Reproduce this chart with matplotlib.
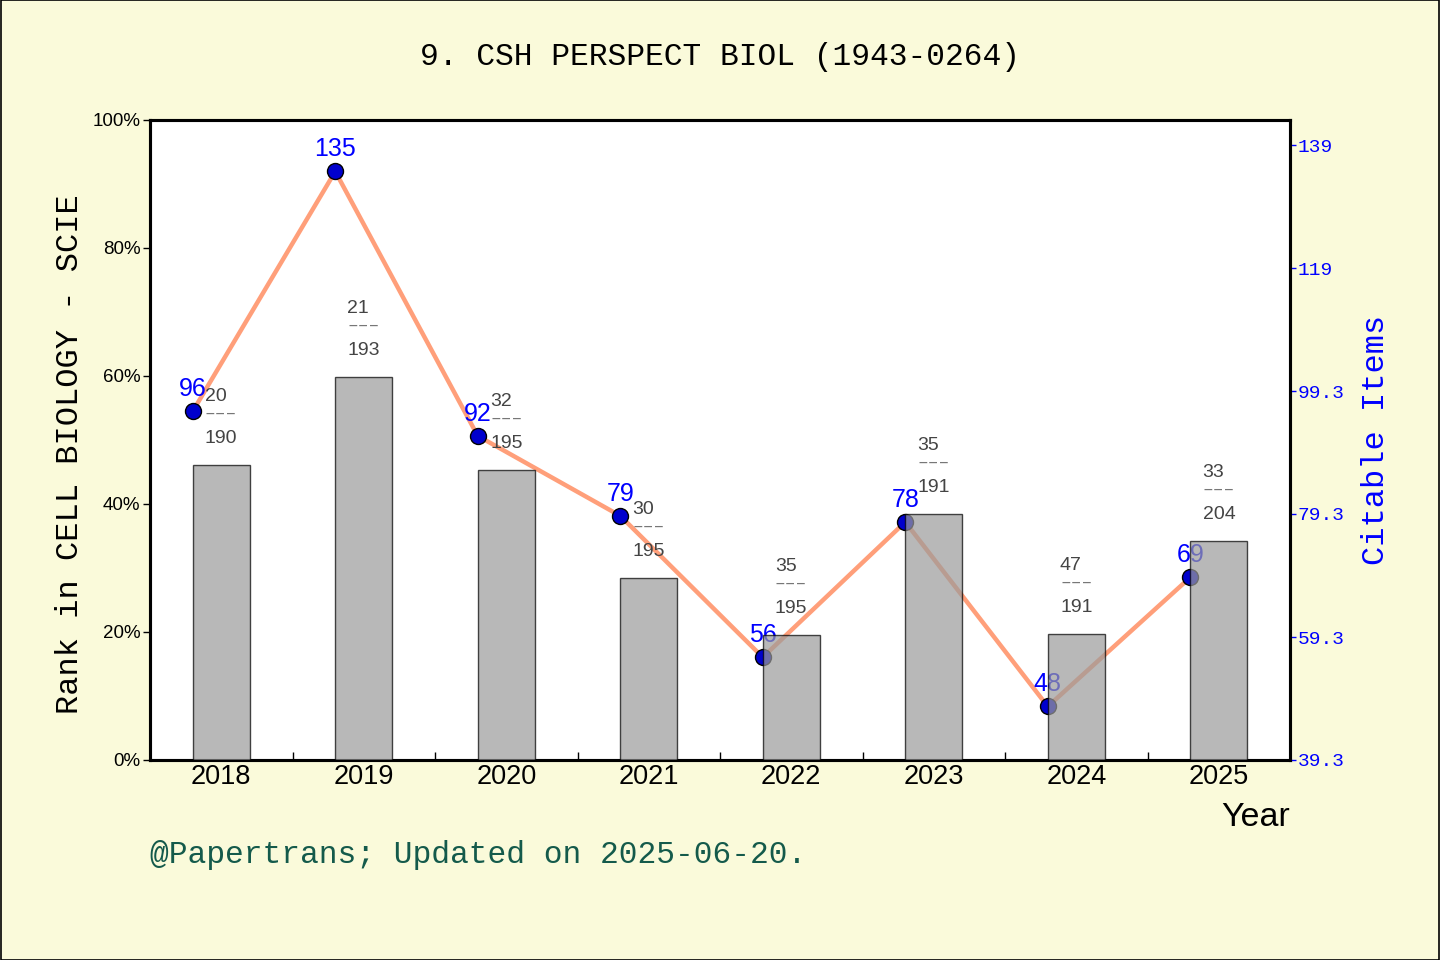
import matplotlib
matplotlib.use("Agg")
import matplotlib.pyplot as plt
from matplotlib.patches import Rectangle
from matplotlib.ticker import FixedLocator, FuncFormatter
import numpy as np

years = ["2018", "2019", "2020", "2021", "2022", "2023", "2024", "2025"]
rank_pct = [46.1, 59.8, 45.3, 28.4, 19.5, 38.4, 19.7, 34.2]
ranks = [20, 21, 32, 30, 35, 35, 47, 33]
totals = [190, 193, 195, 195, 195, 191, 191, 204]
citable = [96, 135, 92, 79, 56, 78, 48, 69]
right_ticks = [39.3, 59.3, 79.3, 99.3, 119.3, 139.3]

MONO = "Liberation Mono"
SANS = "Liberation Sans"
BG = "#FAFADA"

fig = plt.figure(figsize=(14.4, 9.6), dpi=100, facecolor=BG)
ax = fig.add_axes([150/1440, 1-760/960, 1140/1440, 640/960])
ax2 = ax.twinx()
ax.set_zorder(ax2.get_zorder() + 1)
ax.patch.set_visible(False)
ax2.patch.set_visible(True)
ax2.patch.set_facecolor("white")

x = np.arange(len(years))

# bars
ax.bar(x, rank_pct, width=0.4, color="#9b9b9b", alpha=0.71, edgecolor="black",
       linewidth=1.0, zorder=3)
LEFT = -11.7  # points: left edge of the rank/total block relative to bar centre
for xi, h, r, t in zip(x, rank_pct, ranks, totals):
    ax.annotate(f"{r}", xy=(xi, h), xytext=(LEFT, 46), textcoords="offset points",
                ha="left", va="baseline", fontsize=14, family=SANS, color="#444444",
                zorder=4)
    ax.annotate("\u2013\u2013\u2013", xy=(xi, h), xytext=(LEFT, 34), textcoords="offset points",
                ha="left", va="baseline", fontsize=13, family=MONO,
                color="#777777", zorder=4)
    ax.annotate(f"{t}", xy=(xi, h), xytext=(LEFT, 16), textcoords="offset points",
                ha="left", va="baseline", fontsize=14, family=SANS, color="#444444",
                zorder=4)

ax.set_xlim(-0.5, len(years) - 0.5)
ax.set_ylim(0, 100)
ax.set_yticks([0, 20, 40, 60, 80, 100])
ax.yaxis.set_major_formatter(FuncFormatter(lambda v, p: f"{v:.0f}%"))
ax.set_xticks(x)
ax.set_xticklabels(years, family=SANS, fontsize=19.5)
ax.xaxis.set_minor_locator(FixedLocator(x[:-1] + 0.5))
ax.tick_params(axis="x", which="major", length=0, pad=3)
ax.tick_params(axis="x", which="minor", direction="in", length=6, width=1)
ax.tick_params(axis="y", which="major", direction="out", length=5, width=1,
               labelsize=13.5, pad=2)
for lab in ax.get_yticklabels():
    lab.set_family(SANS)
ax.set_ylabel("Rank in CELL BIOLOGY - SCIE", family=MONO, fontsize=23, labelpad=5.5)
ax.yaxis.label.set_y(0.478)

# line on twin axis
xl = x - 0.2
ax2.plot(xl, citable, color="#FF9F7A", linewidth=3.2, zorder=2)
ax2.plot(xl, citable, linestyle="none", marker="o", markersize=11.5,
         markerfacecolor="#0000CD", markeredgecolor="black", markeredgewidth=1.0, zorder=3)
for xi, v in zip(xl, citable):
    ax2.annotate(f"{v}", xy=(xi, v), xytext=(0, 11), textcoords="offset points",
                 ha="center", va="baseline", fontsize=18, family=SANS, color="#0000FF",
                 zorder=4)
ax2.set_ylim(39.3, 39.3 + 640/6.15)
ax2.set_yticks(right_ticks)
ax2.yaxis.set_major_formatter(FuncFormatter(lambda v, p: f"{v:.3g}"))
ax2.tick_params(axis="y", direction="out", length=4, width=1, colors="#0000FF",
                labelsize=14, pad=1.5)
for lab in ax2.get_yticklabels():
    lab.set_family(MONO)
ax2.set_ylabel("Citable Items", family=MONO, fontsize=23, color="#0000FF", labelpad=12)

for a in (ax, ax2):
    for s in a.spines.values():
        s.set_linewidth(2.2)
        s.set_color("black")

fig.text(720/1440, 1-57/960, "9. CSH PERSPECT BIOL (1943-0264)", ha="center", va="center",
         family=MONO, fontsize=22.5, color="black")
fig.text(1290/1440, 1-818/960, "Year", ha="right", va="center", family=SANS,
         fontsize=24.5, color="black")
fig.text(150/1440, 1-855/960, "@Papertrans; Updated on 2025-06-20.", ha="left", va="center",
         family=MONO, fontsize=22.5, color="#145A4B")

fig.patches.append(Rectangle((0.0005, 0.0005), 0.999, 0.999, transform=fig.transFigure,
                             fill=False, edgecolor="black", linewidth=1.2))

fig.savefig("out.png", dpi=100, facecolor=BG)
